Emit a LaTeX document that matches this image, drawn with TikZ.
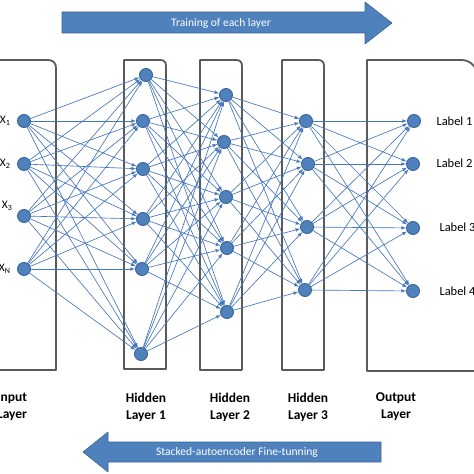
\documentclass[tikz,border=0pt]{standalone}
\usepackage{fontspec}
\setmainfont{Carlito}
\definecolor{nodefill}{HTML}{4F81BD}
\definecolor{nodeline}{HTML}{3A6496}
\definecolor{edgecol}{HTML}{4677BB}
\definecolor{boxcol}{HTML}{5A5A5A}
\begin{document}
\begin{tikzpicture}[>=latex,line join=bevel,x=1bp,y=-1bp,
  neuron/.style={circle,draw=nodeline,fill=nodefill,line width=0.9bp,minimum size=13bp,inner sep=0pt},
  edge/.style={draw=edgecol,line width=0.65bp},
  layerbox/.style={draw=boxcol,line width=1.8bp},
  banner/.style={fill=nodefill,draw=nodeline,line width=0.6bp},
  bannertext/.style={text=white,font=\fontsize{11.6}{13}\selectfont},
  layername/.style={align=center,font=\bfseries\fontsize{13.5}{17}\selectfont},
  outlabel/.style={anchor=west,font=\fontsize{12.5}{14}\selectfont},
  inlabel/.style={anchor=east,font=\fontsize{11.5}{13}\selectfont}]
\useasboundingbox (0,0) rectangle (474,474);
%%
\begin{scope}
  \fill [white] (0,0) rectangle (474,474);
\end{scope}
%% layer boxes
\begin{scope}
  \draw [layerbox] (-10,370) -- (-10,60) -- (48,60) .. controls (53,60) and (56,63) .. (56,68) -- (56,370) -- cycle;
  \draw [layerbox] (124,369) -- (124,60) -- (160,60) .. controls (164,60) and (166,62) .. (166,66) -- (166,369) -- cycle;
  \draw [layerbox] (200,370) -- (200,60) -- (236,60) .. controls (240,60) and (242,62) .. (242,66) -- (242,370) -- cycle;
  \draw [layerbox] (282,370) -- (282,60) -- (318,60) .. controls (322,60) and (324,62) .. (324,66) -- (324,370) -- cycle;
  \draw [layerbox] (367,371) -- (367,60) -- (462,60) .. controls (468,60) and (474,64) .. (476,70) -- (476,371) -- cycle;
\end{scope}
%% banners
\begin{scope}
  \filldraw [banner] (62,12) -- (365,12) -- (365,2) -- (392,23) -- (365,44) -- (365,33) -- (62,33) -- cycle;
  \filldraw [banner] (381,442) -- (108,442) -- (108,432) -- (83,452) -- (108,472) -- (108,462) -- (381,462) -- cycle;
\end{scope}
  \node (training) at (221,23) [bannertext] {Training of each layer};
  \node (finetune) at (237,452) [bannertext] {Stacked-autoencoder Fine-tunning};
%% input layer
  \node (x1) at (24,121) [neuron] {};
  \node (x2) at (24,164) [neuron] {};
  \node (x3) at (24,216) [neuron] {};
  \node (xn) at (24,269) [neuron] {};
  \node (x1lab) at (14,121) [inlabel] {X\textsubscript{1}};
  \node (x2lab) at (14,164) [inlabel] {X\textsubscript{2}};
  \node (x3lab) at (16,206) [inlabel] {X\textsubscript{3}};
  \node (xnlab) at (14,269) [inlabel] {X\textsubscript{N}};
%% hidden layer 1
  \node (h1a) at (146,75) [neuron] {};
  \node (h1b) at (143,121) [neuron] {};
  \node (h1c) at (143,169) [neuron] {};
  \node (h1d) at (143,219) [neuron] {};
  \node (h1e) at (142,269) [neuron] {};
  \node (h1f) at (141,354) [neuron] {};
%% hidden layer 2
  \node (h2a) at (226,95) [neuron] {};
  \node (h2b) at (224,142) [neuron] {};
  \node (h2c) at (226,197) [neuron] {};
  \node (h2d) at (227,248) [neuron] {};
  \node (h2e) at (227,312) [neuron] {};
%% hidden layer 3
  \node (h3a) at (306,121) [neuron] {};
  \node (h3b) at (308,164) [neuron] {};
  \node (h3c) at (307,227) [neuron] {};
  \node (h3d) at (305,290) [neuron] {};
%% output layer
  \node (out1) at (414,121) [neuron] {};
  \node (out2) at (413,164) [neuron] {};
  \node (out3) at (413,228) [neuron] {};
  \node (out4) at (413,291) [neuron] {};
  \node (lab1) at (433,121) [outlabel] {Label 1};
  \node (lab2) at (433,163) [outlabel] {Label 2};
  \node (lab3) at (436,227) [outlabel] {Label 3};
  \node (lab4) at (436,291) [outlabel] {Label 4};
%% layer names
  \node (inname) at (12,407) [layername] {Input\\Layer};
  \node (h1name) at (146,407) [layername] {Hidden\\Layer 1};
  \node (h2name) at (230,407) [layername] {Hidden\\Layer 2};
  \node (h3name) at (308,407) [layername] {Hidden\\Layer 3};
  \node (outname) at (396,407) [layername] {Output\\Layer};
%% input -> hidden 1
  \draw [edge,->] (x1) -- (h1a);
  \draw [edge,->] (x1) -- (h1b);
  \draw [edge,->] (x1) -- (h1c);
  \draw [edge,->] (x1) -- (h1d);
  \draw [edge,->] (x1) -- (h1e);
  \draw [edge,->] (x1) -- (h1f);
  \draw [edge,->] (x2) -- (h1a);
  \draw [edge,->] (x2) -- (h1b);
  \draw [edge,->] (x2) -- (h1c);
  \draw [edge,->] (x2) -- (h1d);
  \draw [edge,->] (x2) -- (h1e);
  \draw [edge,->] (x2) -- (h1f);
  \draw [edge,->] (x3) -- (h1a);
  \draw [edge,->] (x3) -- (h1b);
  \draw [edge,->] (x3) -- (h1c);
  \draw [edge,->] (x3) -- (h1d);
  \draw [edge,->] (x3) -- (h1e);
  \draw [edge,->] (x3) -- (h1f);
  \draw [edge,->] (xn) -- (h1a);
  \draw [edge,->] (xn) -- (h1b);
  \draw [edge,->] (xn) -- (h1c);
  \draw [edge,->] (xn) -- (h1d);
  \draw [edge,->] (xn) -- (h1e);
  \draw [edge,->] (xn) -- (h1f);
%% hidden 1 -> hidden 2
  \draw [edge,->] (h1a) -- (h2a);
  \draw [edge,->] (h1a) -- (h2b);
  \draw [edge,->] (h1a) -- (h2c);
  \draw [edge,->] (h1a) -- (h2d);
  \draw [edge,->] (h1a) -- (h2e);
  \draw [edge,->] (h1b) -- (h2a);
  \draw [edge,->] (h1b) -- (h2b);
  \draw [edge,->] (h1b) -- (h2c);
  \draw [edge,->] (h1b) -- (h2d);
  \draw [edge,->] (h1b) -- (h2e);
  \draw [edge,->] (h1c) -- (h2a);
  \draw [edge,->] (h1c) -- (h2b);
  \draw [edge,->] (h1c) -- (h2c);
  \draw [edge,->] (h1c) -- (h2d);
  \draw [edge,->] (h1c) -- (h2e);
  \draw [edge,->] (h1d) -- (h2a);
  \draw [edge,->] (h1d) -- (h2b);
  \draw [edge,->] (h1d) -- (h2c);
  \draw [edge,->] (h1d) -- (h2d);
  \draw [edge,->] (h1d) -- (h2e);
  \draw [edge,->] (h1e) -- (h2a);
  \draw [edge,->] (h1e) -- (h2b);
  \draw [edge,->] (h1e) -- (h2c);
  \draw [edge,->] (h1e) -- (h2d);
  \draw [edge,->] (h1e) -- (h2e);
  \draw [edge,->] (h1f) -- (h2a);
  \draw [edge,->] (h1f) -- (h2b);
  \draw [edge,->] (h1f) -- (h2c);
  \draw [edge,->] (h1f) -- (h2d);
  \draw [edge,->] (h1f) -- (h2e);
%% hidden 2 -> hidden 3
  \draw [edge,->] (h2a) -- (h3a);
  \draw [edge,->] (h2a) -- (h3b);
  \draw [edge,->] (h2a) -- (h3c);
  \draw [edge,->] (h2a) -- (h3d);
  \draw [edge,->] (h2b) -- (h3a);
  \draw [edge,->] (h2b) -- (h3b);
  \draw [edge,->] (h2b) -- (h3c);
  \draw [edge,->] (h2b) -- (h3d);
  \draw [edge,->] (h2c) -- (h3a);
  \draw [edge,->] (h2c) -- (h3b);
  \draw [edge,->] (h2c) -- (h3c);
  \draw [edge,->] (h2c) -- (h3d);
  \draw [edge,->] (h2d) -- (h3a);
  \draw [edge,->] (h2d) -- (h3b);
  \draw [edge,->] (h2d) -- (h3c);
  \draw [edge,->] (h2d) -- (h3d);
  \draw [edge,->] (h2e) -- (h3a);
  \draw [edge,->] (h2e) -- (h3b);
  \draw [edge,->] (h2e) -- (h3c);
  \draw [edge,->] (h2e) -- (h3d);
%% hidden 3 -> output
  \draw [edge,->] (h3a) -- (out1);
  \draw [edge,->] (h3a) -- (out2);
  \draw [edge,->] (h3a) -- (out3);
  \draw [edge,->] (h3a) -- (out4);
  \draw [edge,->] (h3b) -- (out1);
  \draw [edge,->] (h3b) -- (out2);
  \draw [edge,->] (h3b) -- (out3);
  \draw [edge,->] (h3b) -- (out4);
  \draw [edge,->] (h3c) -- (out1);
  \draw [edge,->] (h3c) -- (out2);
  \draw [edge,->] (h3c) -- (out3);
  \draw [edge,->] (h3c) -- (out4);
  \draw [edge,->] (h3d) -- (out1);
  \draw [edge,->] (h3d) -- (out2);
  \draw [edge,->] (h3d) -- (out3);
  \draw [edge,->] (h3d) -- (out4);
%
\end{tikzpicture}
\end{document}
